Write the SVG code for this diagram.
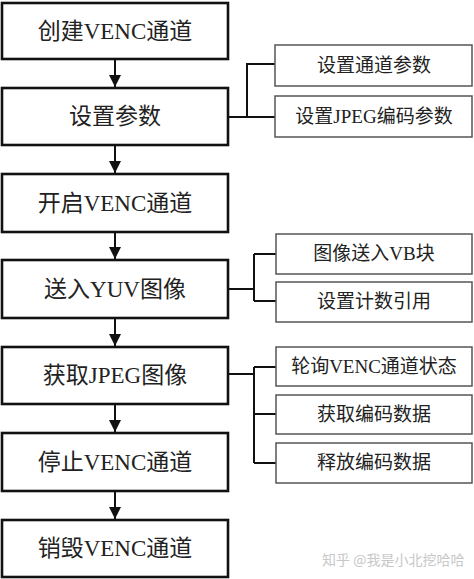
<svg xmlns="http://www.w3.org/2000/svg" width="474" height="579" viewBox="0 0 474 579">
<style>
.main{fill:#fff;stroke:#111;stroke-width:2.6}
.sub{fill:#fff;stroke:#555;stroke-width:1.5}
.mt{font-family:"Liberation Serif","Noto Sans CJK SC",serif;font-size:23px;fill:#222;text-anchor:middle}
.st{font-family:"Liberation Serif","Noto Sans CJK SC",serif;font-size:19px;fill:#222;text-anchor:middle}
.ln{fill:none;stroke:#111;stroke-width:2}
.wm{font-family:"Noto Sans CJK SC",sans-serif;font-size:14px;fill:#c8c8c8}
</style>
<defs>
<marker id="ah" markerWidth="12" markerHeight="12" refX="12" refY="6" orient="auto" markerUnits="userSpaceOnUse">
<path d="M0,0 L12,6 L0,12 Z" fill="#111"/>
</marker>
</defs>
<rect width="474" height="579" fill="#fff"/>
<g id="connectors">
<line class="ln" x1="115" y1="59" x2="115" y2="87" marker-end="url(#ah)"/>
<line class="ln" x1="115" y1="145" x2="115" y2="173" marker-end="url(#ah)"/>
<line class="ln" x1="115" y1="232" x2="115" y2="259" marker-end="url(#ah)"/>
<line class="ln" x1="115" y1="318" x2="115" y2="346" marker-end="url(#ah)"/>
<line class="ln" x1="115" y1="404" x2="115" y2="432" marker-end="url(#ah)"/>
<line class="ln" x1="115" y1="491" x2="115" y2="519" marker-end="url(#ah)"/>
<path class="ln" d="M228,117 H275 M247,117 V64 H275"/>
<path class="ln" d="M228,289 H254 M254,254 V301 M254,254 H276 M254,301 H276"/>
<path class="ln" d="M228,374 H254 M254,367 V463 M254,367 H276 M254,414 H276 M254,463 H276"/>
</g>
<g id="n1"><rect class="main" x="2" y="3" width="226" height="56"/><text class="mt" x="115" y="39">创建VENC通道</text></g>
<g id="n2"><rect class="main" x="2" y="88" width="226" height="57"/><text class="mt" x="115" y="124">设置参数</text></g>
<g id="n3"><rect class="main" x="2" y="174" width="226" height="58"/><text class="mt" x="115" y="211">开启VENC通道</text></g>
<g id="n4"><rect class="main" x="2" y="260" width="226" height="58"/><text class="mt" x="115" y="297">送入YUV图像</text></g>
<g id="n5"><rect class="main" x="2" y="347" width="226" height="57"/><text class="mt" x="115" y="383">获取JPEG图像</text></g>
<g id="n6"><rect class="main" x="2" y="433" width="226" height="58"/><text class="mt" x="115" y="470">停止VENC通道</text></g>
<g id="n7"><rect class="main" x="2" y="520" width="226" height="57"/><text class="mt" x="115" y="556">销毁VENC通道</text></g>
<g id="s1"><rect class="sub" x="275" y="45" width="197" height="41"/><text class="st" x="374" y="72">设置通道参数</text></g>
<g id="s2"><rect class="sub" x="275" y="96" width="197" height="41"/><text class="st" x="374" y="123">设置JPEG编码参数</text></g>
<g id="s3"><rect class="sub" x="276" y="234" width="196" height="40"/><text class="st" x="374" y="260">图像送入VB块</text></g>
<g id="s4"><rect class="sub" x="276" y="282" width="196" height="40"/><text class="st" x="374" y="308">设置计数引用</text></g>
<g id="s5"><rect class="sub" x="276" y="347" width="196" height="39"/><text class="st" x="374" y="373">轮询VENC通道状态</text></g>
<g id="s6"><rect class="sub" x="276" y="395" width="196" height="39"/><text class="st" x="374" y="421">获取编码数据</text></g>
<g id="s7"><rect class="sub" x="276" y="443" width="196" height="40"/><text class="st" x="374" y="469">释放编码数据</text></g>
<text class="wm" x="322" y="565">知乎 @我是小北挖哈哈</text>
</svg>
